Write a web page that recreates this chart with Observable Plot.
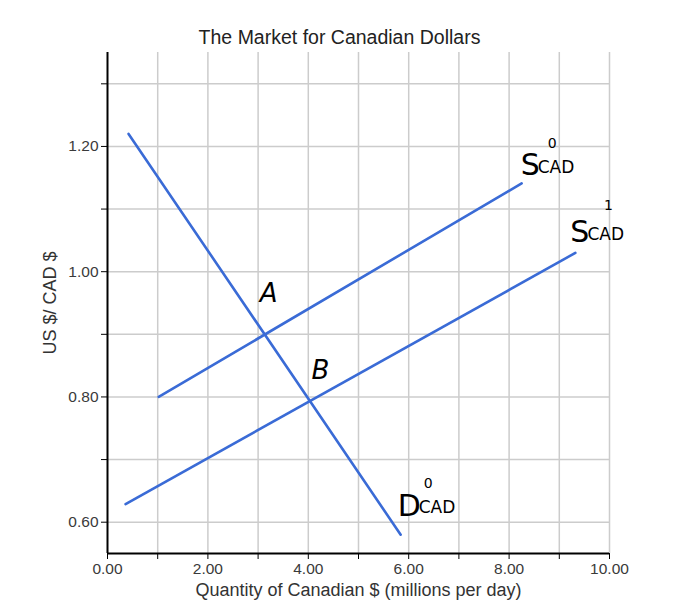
<!DOCTYPE html>
<html>
<head>
<meta charset="utf-8">
<script src="https://cdn.jsdelivr.net/npm/d3@7"></script>
<script src="https://cdn.jsdelivr.net/npm/@observablehq/plot@0.6"></script>
<style>
  html, body { margin: 0; padding: 0; background: #fff; }
  #chart svg { display: block; }
</style>
</head>
<body>
<div id="chart"></div>
<script>
// ---- data ----
const titleText = "The Market for Canadian Dollars";
const xLabelText = "Quantity of Canadian $ (millions per day)";
const yLabelText = "US $/ CAD $";

const xTicks = [0, 1, 2, 3, 4, 5, 6, 7, 8, 9, 10];
const yTicks = [0.6, 0.7, 0.8, 0.9, 1.0, 1.1, 1.2, 1.3];
const xTickLabels = [0, 2, 4, 6, 8, 10];
const yTickLabels = [0.6, 0.8, 1.0, 1.2];

const curveNames = ["D0", "D0", "S0", "S0", "S1", "S1"];
const curveX = [0.42, 5.84, 1.02, 8.25, 0.36, 9.32];
const curveY = [1.22, 0.58, 0.80, 1.141, 0.629, 1.03];

// point labels (A, B)
const pointLabels = ["A", "B"];
const pointLabelX = [3.21, 4.24];
const pointLabelY = [0.965, 0.842];

// curve labels: main letter + subscript at one anchor, superscript at its own place
const curveLabelMain = ["S", "S", "D"];
const curveLabelSub = ["CAD", "CAD", "CAD"];
const curveLabelX = [8.57, 9.56, 6.20];
const curveLabelY = [1.17, 1.062, 0.626];
const curveLabelSup = ["0", "1", "0"];
const supX = [8.86, 9.98, 6.39];
const supY = [1.205, 1.106, 0.662];

// ---- build tables ----
const curves = curveNames.map((n, i) => ({name: n, x: curveX[i], y: curveY[i]}));
const points = pointLabels.map((t, i) => ({t, x: pointLabelX[i], y: pointLabelY[i]}));
const cl = curveLabelMain.map((m, i) => ({m, sub: curveLabelSub[i], x: curveLabelX[i], y: curveLabelY[i]}));
const sups = curveLabelSup.map((t, i) => ({t, x: supX[i], y: supY[i]}));

const font = "Liberation Sans, Arial, Helvetica, sans-serif";
const hand = "DejaVu Sans, sans-serif";

const chart = Plot.plot({
  width: 696,
  height: 604,
  marginLeft: 107,
  marginRight: 87,
  marginTop: 52,
  marginBottom: 51,
  style: {fontFamily: font, fontSize: "15px", background: "#fff", overflow: "visible"},
  x: {domain: [0, 10]},
  y: {domain: [0.55, 1.35]},
  marks: [
    // grid
    Plot.ruleX(xTicks.slice(1), {stroke: "#cccccc", strokeWidth: 1.5, strokeOpacity: 1}),
    Plot.ruleY(yTicks, {stroke: "#cccccc", strokeWidth: 1.5, strokeOpacity: 1}),
    // axes (ticks only; labels drawn below)
    Plot.axisX({ticks: xTicks, tickSize: 6, tickFormat: () => "", label: null, stroke: "#000"}),
    Plot.axisY({ticks: yTicks, tickSize: 6, tickFormat: () => "", label: null, stroke: "#000"}),
    Plot.text(xTickLabels, {x: d => d, frameAnchor: "bottom", dy: 16, lineAnchor: "middle", textAnchor: "middle",
      text: d => d.toFixed(2), fontSize: 15.5, fill: "#3a3a3a"}),
    Plot.text(yTickLabels, {y: d => d, frameAnchor: "left", dx: -9, lineAnchor: "middle", textAnchor: "end",
      text: d => d.toFixed(2), fontSize: 15.5, fill: "#3a3a3a"}),
    Plot.ruleX([0], {stroke: "#000", strokeWidth: 2}),
    Plot.ruleY([0.55], {stroke: "#000", strokeWidth: 2}),
    // curves
    Plot.line(curves, {x: "x", y: "y", z: "name", stroke: "#3a6bd6", strokeWidth: 2.6}),
    // point labels
    Plot.text(points, {x: "x", y: "y", text: "t", fontSize: 26, fill: "#000", fontFamily: hand, fontStyle: "italic"}),
    // curve labels
    Plot.text(cl, {x: "x", y: "y", text: "m", fontSize: 30, fill: "#000", textAnchor: "end", dx: 2,
      fontFamily: hand}),
    Plot.text(cl, {x: "x", y: "y", text: "sub", fontSize: 17, fill: "#000", textAnchor: "start", dy: 2,
      fontFamily: hand}),
    Plot.text(sups, {x: "x", y: "y", text: "t", fontSize: 14, fill: "#000", fontFamily: hand}),
    // title and axis labels
    Plot.text([titleText], {frameAnchor: "top", dx: -19, dy: -15, fontSize: 19.5, fill: "#222", lineAnchor: "middle"}),
    Plot.text([xLabelText], {frameAnchor: "bottom", dy: 37, fontSize: 18, fill: "#333", lineAnchor: "middle", textAnchor: "middle"}),
    Plot.text([yLabelText], {frameAnchor: "left", dx: -57, rotate: -90, fontSize: 18, fill: "#333", lineAnchor: "middle", textAnchor: "middle"})
  ]
});
document.getElementById("chart").appendChild(chart);
</script>
</body>
</html>
